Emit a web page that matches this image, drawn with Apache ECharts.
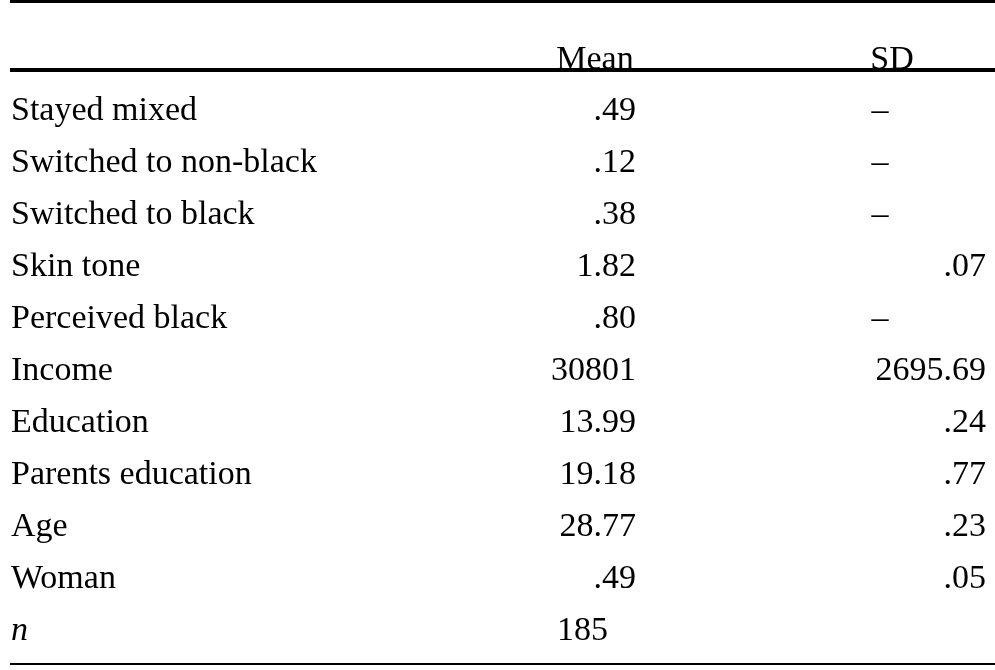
<!DOCTYPE html>
<html><head><meta charset="utf-8">
<script src="https://cdn.jsdelivr.net/npm/echarts@6/dist/echarts.min.js"></script>
<style>html,body{margin:0;padding:0;background:#fff}#c{width:995px;height:670px}</style>
</head><body><div id="c"></div>
<script>
const headers = ["Mean", "SD"];
const rowLabels = ["Stayed mixed","Switched to non-black","Switched to black","Skin tone","Perceived black","Income","Education","Parents education","Age","Woman","n"];
const meanValues = [".49",".12",".38","1.82",".80","30801","13.99","19.18","28.77",".49","185"];
const sdValues = ["–","–","–",".07","–","2695.69",".24",".77",".23",".05",""];

const chart = echarts.init(document.getElementById('c'));
const font = '"Liberation Serif", "DejaVu Serif", serif';
const fs = 34;
const els = [];
const rule = (y, w) => els.push({type:'rect', shape:{x:10,y:y,width:985,height:w}, style:{fill:'#000'}});
rule(0, 3); rule(68, 4); rule(663, 2);
els.push({type:'text', style:{text:headers[0], x:595, y:60, textAlign:'center', textVerticalAlign:'middle', font:fs+'px '+font, fill:'#000'}});
els.push({type:'text', style:{text:headers[1], x:892, y:60, textAlign:'center', textVerticalAlign:'middle', font:fs+'px '+font, fill:'#000'}});
rowLabels.forEach((lab, i) => {
  const y = 111 + i * 52;
  const last = i === rowLabels.length - 1;
  els.push({type:'text', style:{text:lab, x:11, y:y, textAlign:'left', textVerticalAlign:'middle', font:(last?'italic ':'')+fs+'px '+font, fill:'#000'}});
  els.push({type:'text', style:{text:meanValues[i], x: last?557:636, y:y, textAlign: last?'left':'right', textVerticalAlign:'middle', font:fs+'px '+font, fill:'#000'}});
  const sd = sdValues[i];
  if (sd === '–') els.push({type:'text', style:{text:sd, x:880, y:y, textAlign:'center', textVerticalAlign:'middle', font:fs+'px '+font, fill:'#000'}});
  else if (sd) els.push({type:'text', style:{text:sd, x:986, y:y, textAlign:'right', textVerticalAlign:'middle', font:fs+'px '+font, fill:'#000'}});
});
chart.setOption({animation:false, graphic:{elements:els}});
</script></body></html>
